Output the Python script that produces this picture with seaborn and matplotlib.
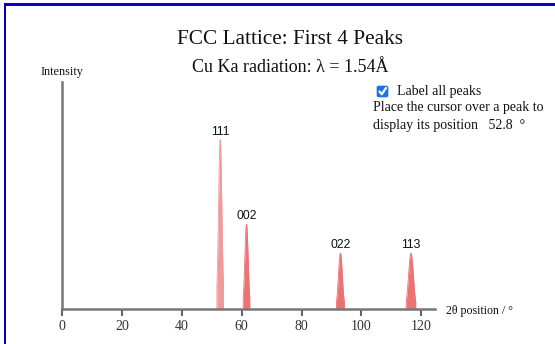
import numpy as np
import pandas as pd
import matplotlib
matplotlib.use("Agg")
import matplotlib.pyplot as plt
import seaborn as sns
from matplotlib.patches import FancyBboxPatch, Rectangle

# ---- data ----
peak_labels = ["111", "002", "022", "113"]
peak_pos = [52.8, 61.6, 93.0, 116.6]        # 2theta, degrees
peak_height = [100, 50, 33, 33]             # relative intensity
peak_sigma = [0.55, 0.55, 0.65, 0.8]        # peak width (degrees)
peak_colors = ["#f09a9c", "#ec7373", "#ec7373", "#ec7373"]
xticks = [0, 20, 40, 60, 80, 100, 120]

sns.set_style("white")
plt.rcParams["font.family"] = ["Liberation Serif", "DejaVu Serif"]

fig = plt.figure(figsize=(5.55, 3.44), dpi=100)
W, H = 555, 344
x0, x1 = 62.3, 435
ax = fig.add_axes([x0 / W, (H - 309) / H, (x1 - x0) / W, (309 - 82) / H])

rows = []
for lab, p, h, s in zip(peak_labels, peak_pos, peak_height, peak_sigma):
    xs = np.linspace(p - 2.0 * s, p + 2.0 * s, 80)
    ys = h * np.exp(-0.5 * ((xs - p) / s) ** 2)
    xs = np.concatenate([[xs[0]], xs, [xs[-1]]])
    ys = np.concatenate([[0], ys, [0]])
    for x, y in zip(xs, ys):
        rows.append({"peak": lab, "x": x, "y": y})
df = pd.DataFrame(rows)

for lab, col, p, h in zip(peak_labels, peak_colors, peak_pos, peak_height):
    d = df[df.peak == lab]
    ax.fill_between(d.x, 0, d.y, color=col, lw=0)
    sns.lineplot(data=d, x="x", y="y", ax=ax, color=col, lw=0.6, sort=False,
                 estimator=None)
    ax.text(p, h + 1.2, lab, ha="center", va="bottom", fontsize=8.7,
            family=["Liberation Sans", "DejaVu Sans"], color="#111111")

ax.set_xlim(0, (x1 - x0) / 2.99)
ax.set_ylim(0, 134)
ax.set_xticks(xticks)
ax.set_xticklabels([str(t) for t in xticks], fontsize=10, color="#333333")
ax.set_yticks([])
ax.set_xlabel("")
ax.set_ylabel("")
ax.tick_params(axis="x", direction="out", length=5, width=1.5, color="#666666",
               pad=3, bottom=True)
sns.despine(ax=ax, top=True, right=True)
for side in ["left", "bottom"]:
    ax.spines[side].set_color("#777777")
    ax.spines[side].set_linewidth(1.8)
ax.patch.set_alpha(0)

# texts
fig.text(290 / W, 1 - 40 / H, "FCC Lattice: First 4 Peaks", ha="center",
         va="center", fontsize=15.3, color="#111111")
fig.text(290 / W, 1 - 67 / H, "Cu Ka radiation: λ = 1.54Å", ha="center",
         va="center", fontsize=13, color="#111111")
fig.text(62 / W, 1 - 72 / H, "Intensity", ha="center", va="center",
         fontsize=8.8, color="#111111")
fig.text(446 / W, 1 - 311 / H, "2θ position / °", ha="left", va="center",
         fontsize=8.6, color="#111111")
fig.text(397 / W, 1 - 92 / H, "Label all peaks", ha="left", va="center",
         fontsize=10, color="#111111")
fig.text(373 / W, 1 - 108 / H, "Place the cursor over a peak to", ha="left",
         va="center", fontsize=10, color="#111111")
fig.text(373 / W, 1 - 125 / H, "display its position   52.8  °", ha="left",
         va="center", fontsize=10, color="#111111")

# checkbox
cb = FancyBboxPatch((377 / W, 1 - 97 / H), 11 / W, 11 / H,
                    boxstyle="round,pad=0,rounding_size=0.004",
                    transform=fig.transFigure, facecolor="#1a73e8",
                    edgecolor="#1a73e8", lw=0.5)
fig.patches.append(cb)
fig.lines.append(plt.Line2D([379.5 / W, 381.8 / W, 386 / W],
                            [1 - 91.5 / H, 1 - 94.2 / H, 1 - 88 / H],
                            transform=fig.transFigure, color="white", lw=1.6))

# blue frame (left & top)
fig.patches.append(Rectangle((3.5 / W, 0), 2.5 / W, 1 - 3 / H,
                             transform=fig.transFigure, color="#0000c8", lw=0))
fig.patches.append(Rectangle((3.5 / W, 1 - 5.5 / H), 1, 2.5 / H,
                             transform=fig.transFigure, color="#0000c8", lw=0))

fig.savefig("out.png", dpi=100)
